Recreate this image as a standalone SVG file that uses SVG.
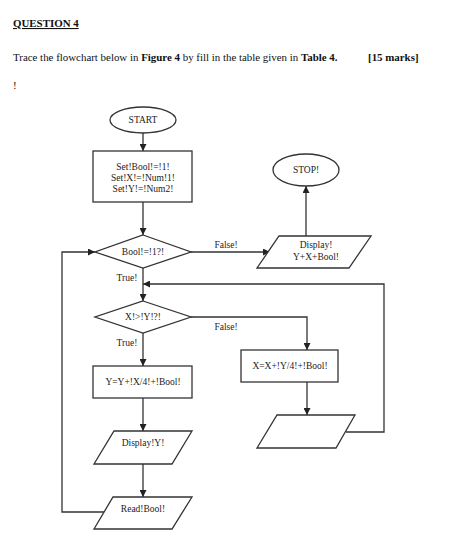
<svg xmlns="http://www.w3.org/2000/svg" width="474" height="542" viewBox="0 0 474 542">
<defs>
<marker id="ah" viewBox="0 0 10 10" refX="10" refY="5" markerWidth="7" markerHeight="7" markerUnits="userSpaceOnUse" orient="auto">
<path d="M0,0 L10,5 L0,10 z" fill="#222"/>
</marker>
<style>
.s{fill:#fff;stroke:#333;stroke-width:1.3}
.c{fill:none;stroke:#333;stroke-width:1.3}
.t{font-family:"Liberation Serif","DejaVu Serif",serif;font-size:9.5px;fill:#222;text-anchor:middle}
.h{font-family:"Liberation Serif",serif;fill:#111;font-size:10.9px}
</style>
</defs>
<rect width="474" height="542" fill="#fff"/>
<g id="header">
<text class="h" x="13" y="27" font-size="12" font-weight="bold" text-decoration="underline">QUESTION 4</text>
<text class="h" x="13" y="61">Trace the flowchart below in <tspan font-weight="bold">Figure 4</tspan> by fill in the table given in <tspan font-weight="bold">Table 4.</tspan></text>
<text class="h" x="368" y="61" font-size="11.3" font-weight="bold">[15 marks]</text>
<text class="h" x="13" y="89">!</text>
</g>
<g id="connectors">
<line class="c" x1="143" y1="133" x2="143" y2="151" marker-end="url(#ah)"/>
<line class="c" x1="143" y1="202" x2="143" y2="235" marker-end="url(#ah)"/>
<line class="c" x1="191" y1="252" x2="270" y2="252" marker-end="url(#ah)"/>
<line class="c" x1="306" y1="236" x2="306" y2="186" marker-end="url(#ah)"/>
<line class="c" x1="143" y1="268" x2="143" y2="301" marker-end="url(#ah)"/>
<polyline class="c" points="346,432 384,432 384,284 143,284" marker-end="url(#ah)"/>
<polyline class="c" points="191,317 307,317 307,350" marker-end="url(#ah)"/>
<line class="c" x1="143" y1="333" x2="143" y2="366" marker-end="url(#ah)"/>
<line class="c" x1="307" y1="382" x2="307" y2="415" marker-end="url(#ah)"/>
<line class="c" x1="143" y1="398" x2="143" y2="431" marker-end="url(#ah)"/>
<line class="c" x1="143" y1="464" x2="143" y2="497" marker-end="url(#ah)"/>
<polyline class="c" points="104,512 62,512 62,252 95,252" marker-end="url(#ah)"/>
<text class="t" x="226" y="248">False!</text>
<text class="t" x="226" y="330">False!</text>
<text class="t" x="127" y="281">True!</text>
<text class="t" x="127" y="346">True!</text>
</g>
<g id="start">
<ellipse class="s" cx="143" cy="120" rx="33" ry="13"/>
<text class="t" x="143" y="123">START</text>
</g>
<g id="init">
<rect class="s" x="93" y="151" width="99" height="51"/>
<text class="t" x="143" y="170">Set!Bool!=!1!</text>
<text class="t" x="143" y="181">Set!X!=!Num!1!</text>
<text class="t" x="143" y="192">Set!Y!=!Num2!</text>
</g>
<g id="cond1">
<polygon class="s" points="143,235 191,252 143,268 95,252"/>
<text class="t" x="143" y="255" font-size="8">Bool!=!1?!</text>
</g>
<g id="stop">
<ellipse class="s" cx="306" cy="170" rx="33" ry="16"/>
<text class="t" x="306" y="173">STOP!</text>
</g>
<g id="display1">
<polygon class="s" points="279,236 371,236 349,268 257,268"/>
<text class="t" x="316" y="248">Display!</text>
<text class="t" x="316" y="260">Y+X+Bool!</text>
</g>
<g id="cond2">
<polygon class="s" points="143,301 191,317 143,333 95,317"/>
<text class="t" x="143" y="320" font-size="8">X!&gt;!Y!?!</text>
</g>
<g id="xbox">
<rect class="s" x="241" y="350" width="97" height="32"/>
<text class="t" x="290" y="369">X=X+!Y/4!+!Bool!</text>
</g>
<g id="empty">
<polygon class="s" points="277,415 355,415 336,448 257,448"/>
</g>
<g id="ybox">
<rect class="s" x="93" y="366" width="99" height="32"/>
<text class="t" x="143" y="385">Y=Y+!X/4!+!Bool!</text>
</g>
<g id="display2">
<polygon class="s" points="114,431 192,431 172,464 94,464"/>
<text class="t" x="143" y="446">Display!Y!</text>
</g>
<g id="read">
<polygon class="s" points="113,497 192,497 172,529 94,529"/>
<text class="t" x="143" y="512">Read!Bool!</text>
</g>
</svg>
